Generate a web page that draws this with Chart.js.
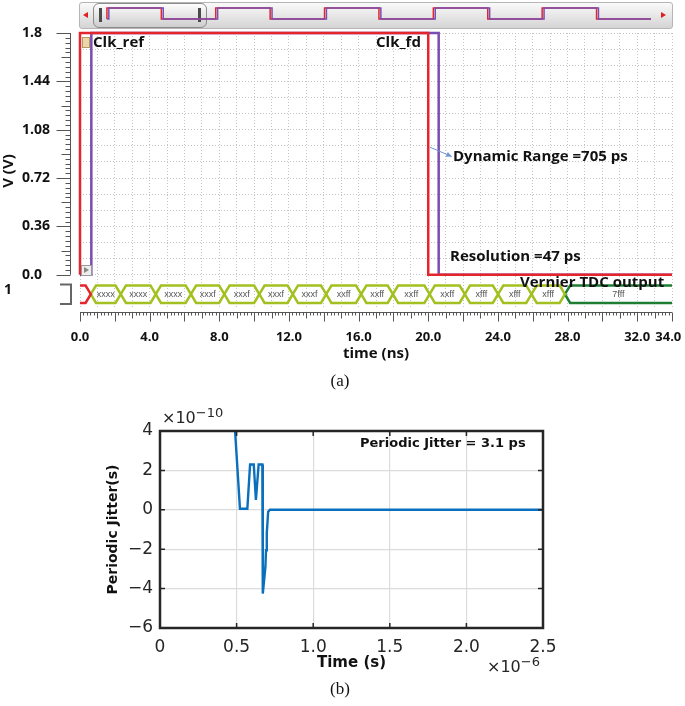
<!DOCTYPE html>
<html>
<head>
<meta charset="utf-8">
<script src="https://cdn.jsdelivr.net/npm/chart.js@4.4.0/dist/chart.umd.min.js"></script>
<style>
  body { margin: 0; background: #fff; }
  #page { position: relative; width: 685px; height: 706px; overflow: hidden; font-family: "Open Sans", sans-serif; }
  canvas { position: absolute; }
  .lbl { position: absolute; font-weight: 700; color: #111; white-space: nowrap; line-height: 1; font-size: 15px; }
  .mat { position: absolute; font-family: "DejaVu Sans", sans-serif; color: #262626; white-space: nowrap; line-height: 1; }
  .cap { position: absolute; font-family: "Liberation Serif", serif; font-size: 17px; line-height: 1; width: 100px; text-align: center; color: #111; }
</style>
</head>
<body>
<div id="page">
  <!-- 顶部缩略条 -->
  <div style="position:absolute;left:79px;top:2px;width:592px;height:25px;border:1px solid #b5b5b5;border-radius:3px;background:linear-gradient(#fafafa,#d4d4d4);"></div>
  <div style="position:absolute;left:93px;top:3px;width:112px;height:23px;border:1px solid #8c8c8c;border-radius:6px;background:linear-gradient(#fdfdfd,#cdcdcd);"></div>
  <div style="position:absolute;left:99px;top:8px;width:3px;height:14px;background:#4a4a4a;"></div>
  <div style="position:absolute;left:198px;top:8px;width:3px;height:14px;background:#4a4a4a;"></div>
  <div style="position:absolute;left:83px;top:12px;width:0;height:0;border-top:3px solid transparent;border-bottom:3px solid transparent;border-right:5px solid #e02020;"></div>
  <div style="position:absolute;left:661px;top:12px;width:0;height:0;border-top:3px solid transparent;border-bottom:3px solid transparent;border-left:5px solid #e02020;"></div>

  <canvas id="chartA" width="685" height="375" style="left:0;top:0;width:685px;height:375px;"></canvas>
  <canvas id="overview" width="590" height="27" style="left:80px;top:2px;width:590px;height:27px;"></canvas>
  <canvas id="chartB" width="685" height="306" style="left:0;top:400px;width:685px;height:306px;"></canvas>

  <!-- 上图标注 -->
  <div style="position:absolute;left:82px;top:37px;width:6px;height:9px;background:#ead6aa;border:1px solid #b89a60;"></div>
  <div style="position:absolute;left:81px;top:265px;width:9px;height:9px;background:#eee;border:1px solid #999;"></div>
  <div style="position:absolute;left:84px;top:267px;width:0;height:0;border-top:3px solid transparent;border-bottom:3px solid transparent;border-left:5px solid #888;"></div>
  <div class="lbl" style="left:93px;top:34px;">Clk_ref</div>
  <div class="lbl" style="left:376px;top:34px;">Clk_fd</div>
  <div class="lbl" style="left:453px;top:148px;">Dynamic Range =705 ps</div>
  <div class="lbl" style="left:450px;top:248px;">Resolution =47 ps</div>
  <div class="lbl" style="left:520px;top:274px;">Vernier TDC output</div>
  <div class="lbl" style="left:4px;top:282px;font-size:14px;">1</div>
  <div class="cap" style="left:290px;top:372px;">(a)</div>

  <!-- 下图标注 -->
  <div class="mat" style="left:162px;top:410px;font-size:16px;">×10<span style="position:relative;top:-6px;font-size:13px;">−10</span></div>
  <div class="mat" style="left:360px;top:436px;font-size:13px;font-weight:700;color:#111;">Periodic Jitter = 3.1 ps</div>
  <div class="mat" style="left:487px;top:659px;font-size:16px;">×10<span style="position:relative;top:-6px;font-size:13px;">−6</span></div>
  <div class="cap" style="left:290px;top:680px;">(b)</div>
</div>

<script>
// 两路时钟波形 (ns, V)，用 stepped 画
const refTimes = [0, 0, 20, 34];
const refLevels = [0, 1.8, 0, 0];
const fdTimes = [0, 0.65, 20.6, 34];
const fdLevels = [0, 1.8, 0, 0];

// Vernier TDC 输出总线：跳变时刻 (ns) 和每段的编码
const busEdges = [0.62, 2.34, 4.35, 6.37, 8.29, 10.3, 12.22, 14.14, 16.15, 17.97, 20.08, 22.1, 24.01, 25.93, 27.85];
const busCodes = ["xxxx", "xxxx", "xxxx", "xxxf", "xxxf", "xxxf", "xxxf", "xxff", "xxff", "xxff", "xxff", "xfff", "xfff", "xfff"];
const finalCode = "7fff";

// 坐标轴刻度
const xTickVals = [0, 4, 8, 12, 16, 20, 24, 28, 32, 34];
const xTickLabels = ["0.0", "4.0", "8.0", "12.0", "16.0", "20.0", "24.0", "28.0", "32.0", "34.0"];
const yTickVals = [0, 0.36, 0.72, 1.08, 1.44, 1.8];
const yTickLabels = ["0.0", "0.36", "0.72", "1.08", "1.44", "1.8"];

// 缩略条里的时钟 (ns, 0/1)
const ovRefTimes = [0, 0, 20, 40, 60, 80, 100, 120, 140, 160, 180, 200];
const ovRefLevels = [0, 1, 0, 1, 0, 1, 0, 1, 0, 1, 0, 0];
const ovFdTimes = [0, 0.7, 20.7, 40.7, 60.7, 80.7, 100.7, 120.7, 140.7, 160.7, 180.7, 200];
const ovFdLevels = [0, 1, 0, 1, 0, 1, 0, 1, 0, 1, 0, 0];

// 下图：周期抖动 (x: 1e-6 s, y: 1e-10 s)
const jitTime = [0.49, 0.522, 0.57, 0.588, 0.612, 0.626, 0.644, 0.668, 0.671, 0.688, 0.692, 0.697, 0.706, 0.718, 2.5];
const jitVal = [4.0, 0.05, 0.05, 2.3, 2.3, 0.5, 2.3, 2.3, -4.25, -2.9, -2.05, -1.2, -0.1, 0, 0];

Chart.defaults.animation = false;
Chart.defaults.font.family = '"Open Sans", sans-serif';

const RED = "#e3262c";
const PURPLE = "#7a4db3";
const BUS_GREEN = "#a2c01f";
const BUS_DARK = "#1f7d34";
const BUS_TOP = -0.08, BUS_MID = -0.145, BUS_BOT = -0.21, TIP = 0.3;

function toPoints(ts, vs) {
  return ts.map((t, i) => ({ x: t, y: vs[i] }));
}

/** 一个总线段的六边形 */
function hexPoints(t0, t1) {
  return [
    { x: t0, y: BUS_MID }, { x: t0 + TIP, y: BUS_TOP }, { x: t1 - TIP, y: BUS_TOP },
    { x: t1, y: BUS_MID }, { x: t1 - TIP, y: BUS_BOT }, { x: t0 + TIP, y: BUS_BOT },
    { x: t0, y: BUS_MID }
  ];
}

function busLine(data, color) {
  return { data, borderColor: color, borderWidth: 2.5, pointRadius: 0, tension: 0, clip: 6 };
}

// ---------- 上图 ----------
const datasetsA = [
  { data: toPoints(refTimes, refLevels), borderColor: RED, borderWidth: 2.5, stepped: true, pointRadius: 0, clip: 6 },
  { data: toPoints(fdTimes, fdLevels), borderColor: PURPLE, borderWidth: 2.5, stepped: true, pointRadius: 0, clip: 6 }
];
// 起始的红色短段
const t0 = busEdges[0];
datasetsA.push(busLine([
  { x: 0, y: BUS_TOP }, { x: t0 - TIP, y: BUS_TOP }, { x: t0, y: BUS_MID },
  { x: t0 - TIP, y: BUS_BOT }, { x: 0, y: BUS_BOT }
], RED));
busCodes.forEach((c, i) => {
  datasetsA.push(busLine(hexPoints(busEdges[i], busEdges[i + 1]), BUS_GREEN));
});
const tLast = busEdges[busEdges.length - 1];
datasetsA.push(busLine([
  { x: 34, y: BUS_TOP }, { x: tLast + TIP, y: BUS_TOP }, { x: tLast, y: BUS_MID },
  { x: tLast + TIP, y: BUS_BOT }, { x: 34, y: BUS_BOT }
], BUS_DARK));

/** 标尺、总线文字和箭头 */
const decorPlugin = {
  id: "decor",
  afterDatasetsDraw(chart) {
    const { ctx, chartArea, scales: { x, y } } = chart;
    ctx.save();
    // 总线编码
    ctx.font = '9px "Liberation Sans"';
    ctx.fillStyle = "#555";
    ctx.textAlign = "center";
    ctx.textBaseline = "middle";
    const ym = y.getPixelForValue(BUS_MID);
    busCodes.forEach((c, i) => {
      ctx.fillText(c, x.getPixelForValue((busEdges[i] + busEdges[i + 1]) / 2), ym);
    });
    ctx.fillText(finalCode, x.getPixelForValue((tLast + 34) / 2), ym);

    // x 方向标尺
    ctx.strokeStyle = "#555";
    ctx.lineWidth = 1;
    ctx.beginPath();
    const ry = Math.round(chartArea.bottom) + 3.5;
    ctx.moveTo(x.getPixelForValue(0), ry);
    ctx.lineTo(x.getPixelForValue(34), ry);
    for (let i = 0; i <= 170; i++) {
      const px = Math.round(x.getPixelForValue(i * 0.2)) + 0.5;
      const len = i % 10 === 0 ? 9 : (i % 5 === 0 ? 6 : 3);
      ctx.moveTo(px, ry);
      ctx.lineTo(px, ry + len);
    }
    // y 方向标尺
    const rx = 70.5;
    ctx.moveTo(rx, y.getPixelForValue(0));
    ctx.lineTo(rx, y.getPixelForValue(1.8));
    for (let i = 0; i <= 50; i++) {
      const py = Math.round(y.getPixelForValue(i * 0.036)) + 0.5;
      const len = i % 10 === 0 ? 14 : (i % 5 === 0 ? 9 : 5);
      ctx.moveTo(rx, py);
      ctx.lineTo(rx - len, py);
    }
    ctx.stroke();

    // 总线左边的括号
    ctx.strokeStyle = "#666";
    ctx.lineWidth = 2;
    ctx.beginPath();
    const bt = y.getPixelForValue(BUS_TOP) - 1, bb = y.getPixelForValue(BUS_BOT) + 1;
    ctx.moveTo(60, bt); ctx.lineTo(71, bt); ctx.lineTo(71, bb); ctx.lineTo(60, bb);
    ctx.stroke();

    // Dynamic Range 的小箭头
    const ax0 = x.getPixelForValue(20.1), ay0 = y.getPixelForValue(0.95);
    const ax1 = x.getPixelForValue(21.35), ay1 = y.getPixelForValue(0.88);
    ctx.strokeStyle = "#6f94d6";
    ctx.fillStyle = "#6f94d6";
    ctx.lineWidth = 1;
    ctx.beginPath();
    ctx.moveTo(ax0, ay0); ctx.lineTo(ax1, ay1);
    ctx.stroke();
    const ang = Math.atan2(ay1 - ay0, ax1 - ax0);
    ctx.beginPath();
    ctx.moveTo(ax1, ay1);
    ctx.lineTo(ax1 - 6 * Math.cos(ang - 0.45), ay1 - 6 * Math.sin(ang - 0.45));
    ctx.lineTo(ax1 - 6 * Math.cos(ang + 0.45), ay1 - 6 * Math.sin(ang + 0.45));
    ctx.closePath();
    ctx.fill();
    ctx.restore();
  }
};

function labelFor(v, vals, labels) {
  const i = vals.findIndex((t) => Math.abs(t - v) < 1e-6);
  return i >= 0 ? labels[i] : "";
}

new Chart(document.getElementById("chartA"), {
  type: "line",
  data: { datasets: datasetsA },
  options: {
    responsive: false,
    layout: { padding: { left: 22, right: 13, top: 33, bottom: 0 } },
    plugins: { legend: { display: false }, tooltip: { enabled: false } },
    scales: {
      x: {
        type: "linear", min: 0, max: 34,
        afterBuildTicks(scale) {
          const t = [];
          for (let v = 0; v <= 34; v++) t.push({ value: v });
          scale.ticks = t;
        },
        afterFit(scale) { scale.height = 66; scale.paddingLeft = 0; scale.paddingRight = 0; },
        grid: { color: "#c4c4c4", lineWidth: 1, drawTicks: false },
        border: { display: false, dash: [1, 2] },
        ticks: {
          autoSkip: false, maxRotation: 0, padding: 20, color: "#111",
          font: { size: 13, weight: "bold" },
          callback: (v) => {
            const s = labelFor(v, xTickVals, xTickLabels);
            // 最右边的标签稍微往左，不要出画布
            return v === 34 ? s + "\u2007" : s;
          }
        },
        title: { display: true, text: "time (ns)", color: "#111", font: { size: 15, weight: "bold" }, padding: { top: 0, bottom: 12 } }
      },
      y: {
        type: "linear", min: -0.255, max: 1.8,
        afterBuildTicks(scale) {
          const t = [];
          for (let k = 0; k <= 15; k++) t.push({ value: Math.round(k * 12) / 100 });
          scale.ticks = t;
        },
        afterFit(scale) { scale.width = 58; scale.paddingTop = 0; scale.paddingBottom = 0; },
        grid: { color: "#c4c4c4", lineWidth: 1, drawTicks: false },
        border: { display: false, dash: [1, 2] },
        ticks: {
          autoSkip: false, crossAlign: "far", color: "#111",
          font: { size: 14, weight: "bold" },
          callback: (v) => labelFor(v, yTickVals, yTickLabels)
        },
        title: { display: true, text: "V (V)", color: "#111", font: { size: 15, weight: "bold" }, padding: { top: -22, bottom: 0 } }
      }
    }
  },
  plugins: [decorPlugin]
});

// ---------- 缩略条 ----------
new Chart(document.getElementById("overview"), {
  type: "line",
  data: {
    datasets: [
      { data: toPoints(ovFdTimes, ovFdLevels), borderColor: PURPLE, borderWidth: 1.5, stepped: true, pointRadius: 0 },
      { data: toPoints(ovRefTimes, ovRefLevels), borderColor: RED, borderWidth: 1.5, stepped: true, pointRadius: 0 }
    ]
  },
  options: {
    responsive: false,
    layout: { padding: 0 },
    plugins: { legend: { display: false }, tooltip: { enabled: false } },
    scales: {
      x: { type: "linear", display: false, min: -9.9, max: 207 },
      y: { display: false, min: -0.91, max: 1.55 }
    }
  }
});

// ---------- 下图 ----------
const boxPlugin = {
  id: "box",
  afterDraw(chart) {
    const { ctx, chartArea: a, scales: { x, y } } = chart;
    ctx.save();
    ctx.strokeStyle = "#262626";
    ctx.lineWidth = 1.5;
    ctx.beginPath();
    x.ticks.forEach((t) => {
      const px = x.getPixelForValue(t.value);
      ctx.moveTo(px, a.top); ctx.lineTo(px, a.top + 5);
      ctx.moveTo(px, a.bottom); ctx.lineTo(px, a.bottom - 5);
    });
    y.ticks.forEach((t) => {
      const py = y.getPixelForValue(t.value);
      ctx.moveTo(a.left, py); ctx.lineTo(a.left + 5, py);
      ctx.moveTo(a.right, py); ctx.lineTo(a.right - 5, py);
    });
    ctx.stroke();
    ctx.lineWidth = 2.5;
    ctx.strokeRect(a.left, a.top, a.right - a.left, a.bottom - a.top);
    ctx.restore();
  }
};

new Chart(document.getElementById("chartB"), {
  type: "line",
  data: {
    datasets: [{
      data: toPoints(jitTime, jitVal),
      borderColor: "#0a6fbd", borderWidth: 2.4, pointRadius: 0, tension: 0
    }]
  },
  options: {
    responsive: false,
    layout: { padding: { left: 0, right: 142, top: 31, bottom: 0 } },
    plugins: { legend: { display: false }, tooltip: { enabled: false } },
    scales: {
      x: {
        type: "linear", min: 0, max: 2.5,
        afterFit(scale) { scale.height = 78; },
        grid: { color: "#dcdcdc", lineWidth: 1.2, drawTicks: false },
        border: { display: false },
        ticks: {
          stepSize: 0.5, padding: 9, color: "#262626",
          font: { family: '"DejaVu Sans", sans-serif', size: 17 }
        },
        title: { display: true, text: "Time (s)", color: "#111", font: { family: '"DejaVu Sans", sans-serif', size: 15, weight: "bold" }, padding: { top: 0, bottom: 34 } }
      },
      y: {
        type: "linear", min: -6, max: 4,
        afterFit(scale) { scale.width = 160; },
        grid: { color: "#dcdcdc", lineWidth: 1.2, drawTicks: false },
        border: { display: false },
        ticks: {
          stepSize: 2, padding: 7, color: "#262626",
          font: { family: '"DejaVu Sans", sans-serif', size: 17 },
          callback: (v) => String(v).replace("-", "−")
        },
        title: { display: true, text: "Periodic Jitter(s)", color: "#111", font: { family: '"DejaVu Sans", sans-serif', size: 14, weight: "bold" }, padding: { top: 105, bottom: 0 } }
      }
    }
  },
  plugins: [boxPlugin]
});
</script>
</body>
</html>
